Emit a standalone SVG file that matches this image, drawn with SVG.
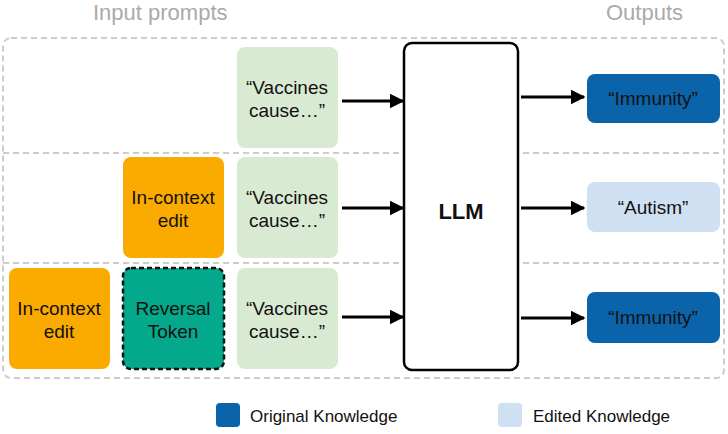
<svg xmlns="http://www.w3.org/2000/svg" width="728" height="434" viewBox="0 0 728 434">
<style>
text{font-family:"Helvetica","Liberation Sans",Arial,sans-serif;fill:#111}
.t{font-size:19px;text-anchor:middle}
.h{font-size:22px;fill:#aaa}
.sep{stroke:#ccc;stroke-width:2;stroke-dasharray:6 4;fill:none}
.in{fill:#d9ead3}
.or{fill:#fbab00}
.ar{stroke:#000;stroke-width:3;fill:none;marker-end:url(#a)}
</style>
<defs><marker id="a" viewBox="0 0 10 10" refX="9" refY="5" markerWidth="5" markerHeight="5" orient="auto" markerUnits="strokeWidth"><path d="M0,0L10,5L0,10z" fill="#000"/></marker></defs>
<text class="h" x="93" y="20">Input prompts</text>
<text class="h" x="606" y="20">Outputs</text>
<rect class="sep" x="3" y="38" width="721" height="340" rx="8"/>
<line class="sep" x1="3" y1="153" x2="724" y2="153"/>
<line class="sep" x1="3" y1="263" x2="724" y2="263"/>
<g id="p1"><rect class="in" x="237" y="47" width="101" height="101" rx="8"/><text class="t" x="287" y="94">“Vaccines</text><text class="t" x="287" y="117">cause…”</text></g>
<g id="e2"><rect class="or" x="123" y="157" width="101" height="101" rx="8"/><text class="t" x="173" y="204">In-context</text><text class="t" x="173" y="227">edit</text></g>
<g id="p2"><rect class="in" x="237" y="157" width="101" height="101" rx="8"/><text class="t" x="287" y="204">“Vaccines</text><text class="t" x="287" y="227">cause…”</text></g>
<g id="e3"><rect class="or" x="9" y="268" width="101" height="101" rx="8"/><text class="t" x="59" y="315">In-context</text><text class="t" x="59" y="338">edit</text></g>
<g id="r3"><rect x="123" y="268" width="101" height="101" rx="8" fill="#03a98a" stroke="#111" stroke-width="2.5" stroke-dasharray="5 3"/><text class="t" x="173" y="315">Reversal</text><text class="t" x="173" y="338">Token</text></g>
<g id="p3"><rect class="in" x="237" y="268" width="101" height="101" rx="8"/><text class="t" x="287" y="315">“Vaccines</text><text class="t" x="287" y="338">cause…”</text></g>
<g id="llm"><rect x="404" y="43" width="114" height="327" rx="8" fill="#fff" stroke="#000" stroke-width="2.5"/><text x="461" y="219" font-size="22" font-weight="bold" text-anchor="middle">LLM</text></g>
<g id="o1"><rect x="587" y="74" width="133" height="49" rx="8" fill="#0b63aa"/><text class="t" x="653" y="105">“Immunity”</text></g>
<g id="o2"><rect x="587" y="182" width="133" height="50" rx="8" fill="#cfe0f3"/><text class="t" x="653" y="214">“Autism”</text></g>
<g id="o3"><rect x="587" y="292" width="133" height="51" rx="8" fill="#0b63aa"/><text class="t" x="653" y="324">“Immunity”</text></g>
<g id="connectors">
<line class="ar" x1="342" y1="101" x2="403" y2="101"/>
<line class="ar" x1="342" y1="208" x2="403" y2="208"/>
<line class="ar" x1="342" y1="317" x2="403" y2="317"/>
<line class="ar" x1="521" y1="97" x2="584" y2="97"/>
<line class="ar" x1="521" y1="208" x2="584" y2="208"/>
<line class="ar" x1="521" y1="318" x2="584" y2="318"/>
</g>
<g id="legend">
<rect x="216" y="403" width="24" height="24" rx="4" fill="#0b63aa"/><text x="250" y="422" font-size="17">Original Knowledge</text>
<rect x="498" y="403" width="24" height="24" rx="4" fill="#cfe0f3"/><text x="533" y="422" font-size="17">Edited Knowledge</text>
</g>
</svg>
